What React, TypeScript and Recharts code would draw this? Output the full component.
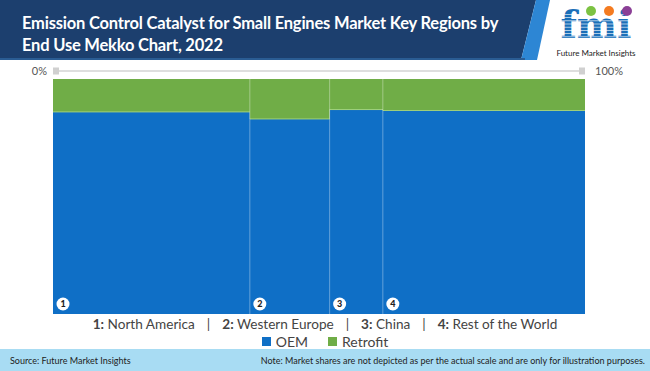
import React from "react";
import {
  AreaChart,
  Area,
  XAxis,
  YAxis,
  ReferenceLine,
  ReferenceDot,
  Legend,
} from "recharts";

const regions = ["North America", "Western Europe", "China", "Rest of the World"];
const regionShare = [37, 15, 10, 38];
const oemShare = [86, 83, 87, 86.6];
const retrofitShare = [14, 17, 13, 13.4];
const axisTicks = [0, 100];

const OEM_COLOR = "#0f6fc6";
const RETRO_COLOR = "#70ad47";
const FONT = "Lato, 'Open Sans', sans-serif";

// step data for the mekko: each column starts at the running share total
const starts: number[] = [];
let acc = 0;
regionShare.forEach((s) => {
  starts.push(acc);
  acc += s;
});
const data = regions.map((name, i) => ({
  x: starts[i],
  name,
  oem: oemShare[i],
  retrofit: retrofitShare[i],
}));
data.push({ ...data[data.length - 1], x: 100 });

const TopTick = (props: any) => {
  const { x, y, payload } = props;
  const first = payload.value === 0;
  return (
    <g>
      <rect x={first ? x : x - 6} y={y - 3.5} width={6} height={7} fill="#d0d0d0" />
      <text
        x={first ? x - 6 : x + 10}
        y={y}
        dy="0.35em"
        textAnchor={first ? "end" : "start"}
        fill="#555"
        fontSize={11}
        fontFamily={FONT}
      >
        {payload.value}%
      </text>
    </g>
  );
};

const RegionBadge = (n: number) => (props: any) => {
  const { cx, cy } = props;
  return (
    <g>
      <circle cx={cx + 10} cy={cy - 10} r={6.5} fill="#fff" />
      <text
        x={cx + 10}
        y={cy - 10}
        dy="0.36em"
        textAnchor="middle"
        fontSize={9}
        fontWeight={900}
        fill="#222"
        fontFamily={FONT}
      >
        {n}
      </text>
    </g>
  );
};

const LegendBlock = (props: any) => {
  const { payload } = props;
  return (
    <div style={{ fontFamily: FONT, color: "#444", textAlign: "center" }}>
      <div style={{ fontSize: 13.6, lineHeight: "18px", height: 18 }}>
        {regions.map((r, i) => (
          <span key={r}>
            {i > 0 && <span style={{ margin: "0 12px" }}>|</span>}
            <b>{i + 1}:</b> {r}
          </span>
        ))}
      </div>
      <div style={{ fontSize: 14, lineHeight: "16px", height: 16 }}>
        {(payload || []).map((p: any) => (
          <span key={p.value} style={{ margin: "0 10px", display: "inline-flex", alignItems: "center" }}>
            <span
              style={{ width: 9, height: 9, background: p.color, display: "inline-block", marginRight: 5 }}
            />
            {p.value}
          </span>
        ))}
      </div>
    </div>
  );
};

function Header() {
  return (
    <div style={{ position: "absolute", left: 0, top: 0, width: 650, height: 60 }}>
      <svg width={650} height={60} style={{ position: "absolute", left: 0, top: 0 }}>
        <rect x={0} y={0} width={650} height={60} fill="#fff" />
        <polygon points="0,0 536,0 521,60 0,60" fill="#1c3f6e" />
        <polygon points="536,0 550,0 537,60 521,60" fill="#2d86d4" />
        <rect x={0} y={58} width={525} height={2} fill="#2a5c93" />
        <text x={596} y={38} textAnchor="middle" fontFamily="'DejaVu Serif', serif" fontWeight={700} fontSize={38} fill="#1b6fb8">
          fmi
        </text>
        {[0, 1, 2, 3, 4, 5, 6, 7].map((k) => (
          <rect key={k} x={552} y={14 + k * 3.2} width={90} height={0.8} fill="#fff" opacity={0.8} />
        ))}
        <circle cx={591} cy={11} r={5} fill="#7cc242" />
        <circle cx={609} cy={11} r={5} fill="#f47b20" />
        <circle cx={627} cy={11} r={5} fill="#8b3f96" />
        <text x={596} y={56} textAnchor="middle" fontFamily={FONT} fontSize={8} fill="#222">
          Future Market Insights
        </text>
      </svg>
      <div
        style={{
          position: "absolute",
          left: 22,
          top: 12,
          color: "#fff",
          fontFamily: FONT,
          fontWeight: 700,
          fontSize: 16.5,
          lineHeight: "22px",
          letterSpacing: -0.2,
        }}
      >
        Emission Control Catalyst for Small Engines Market Key Regions by
        <br />
        End Use Mekko Chart, 2022
      </div>
    </div>
  );
}

function Footer() {
  return (
    <div
      style={{
        position: "absolute",
        left: 0,
        top: 349,
        width: 650,
        height: 22,
        background: "#a8dcf3",
        fontFamily: FONT,
        fontSize: 9,
        color: "#222",
        display: "flex",
        alignItems: "center",
        justifyContent: "space-between",
        padding: "0 5px 0 10px",
        boxSizing: "border-box",
      }}
    >
      <span>Source: Future Market Insights</span>
      <span>Note: Market shares are not depicted as per the actual scale and are only for illustration purposes.</span>
    </div>
  );
}

export default function App() {
  return (
    <div style={{ position: "absolute", left: 0, top: 0, width: 650, height: 371, background: "#fff", overflow: "hidden" }}>
      <Header />
      <div style={{ position: "absolute", left: 0, top: 60 }}>
        <AreaChart width={650} height={289} data={data} margin={{ top: 0, right: 65, bottom: 1, left: 53 }}>
          <XAxis
            dataKey="x"
            type="number"
            domain={[0, 100]}
            ticks={axisTicks}
            orientation="top"
            height={11}
            tickLine={false}
            tickSize={0}
            tickMargin={0}
            axisLine={{ stroke: "#dedede", strokeWidth: 2 }}
            tick={<TopTick />}
          />
          <YAxis hide type="number" domain={[0, 100]} padding={{ top: 8, bottom: 0 }} />
          <Area
            type="stepAfter"
            dataKey="oem"
            name="OEM"
            stackId="1"
            fill={OEM_COLOR}
            fillOpacity={1}
            stroke="none"
            isAnimationActive={false}
          />
          <Area
            type="stepAfter"
            dataKey="retrofit"
            name="Retrofit"
            stackId="1"
            fill={RETRO_COLOR}
            fillOpacity={1}
            stroke="none"
            isAnimationActive={false}
          />
          {data.slice(0, regions.length).map((d, i) => (
            <ReferenceLine
              key={"l" + i}
              segment={[
                { x: d.x, y: d.oem },
                { x: d.x + regionShare[i], y: d.oem },
              ]}
              stroke="#9fd07a"
              strokeWidth={1}
            />
          ))}
          {starts.slice(1).map((s) => (
            <ReferenceLine
              key={"v" + s}
              segment={[
                { x: s, y: 0 },
                { x: s, y: 100 },
              ]}
              stroke="#ffffff"
              strokeOpacity={0.35}
              strokeWidth={1}
            />
          ))}
          {starts.map((s, i) => (
            <ReferenceDot key={"b" + i} x={s} y={0} r={0} shape={RegionBadge(i + 1)} />
          ))}
          <Legend
            verticalAlign="bottom"
            height={34}
            wrapperStyle={{ bottom: 0, left: 0, width: 650 }}
            content={<LegendBlock />}
          />
        </AreaChart>
      </div>
      <Footer />
    </div>
  );
}
